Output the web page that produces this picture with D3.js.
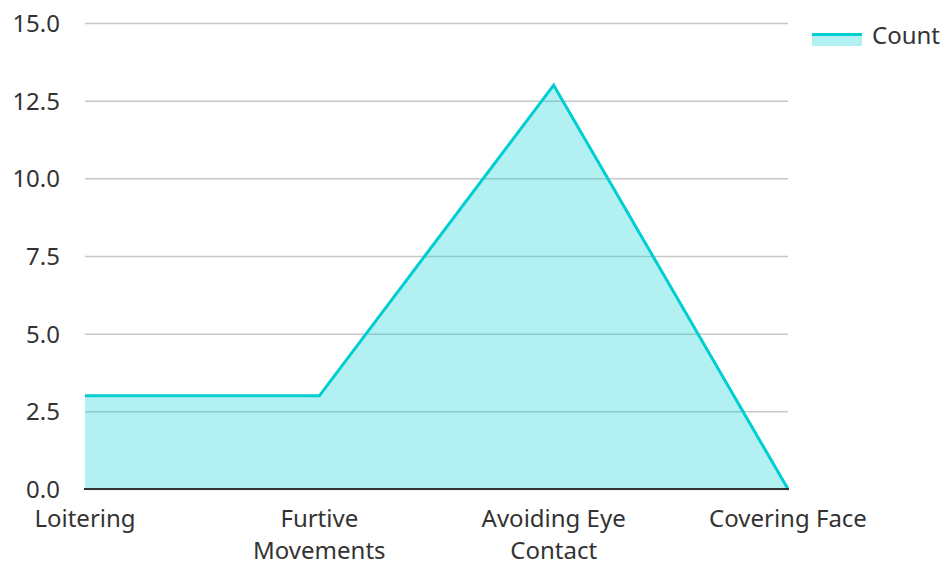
<!DOCTYPE html>
<html>
<head>
<meta charset="utf-8">
<script src="https://cdn.jsdelivr.net/npm/d3@7"></script>
<style>
  html, body { margin: 0; padding: 0; background: #fff; }
  svg text { font-family: "Noto Sans", "Open Sans", sans-serif; fill: #333; }
</style>
</head>
<body>
<svg id="chart" width="945" height="562"></svg>
<script>
// Behaviour counts
const categories = ["Loitering", "Furtive Movements", "Avoiding Eye Contact", "Covering Face"];
const counts = [3, 3, 13, 0];
const yTicks = [0, 2.5, 5, 7.5, 10, 12.5, 15];
const seriesName = "Count";

const svg = d3.select("#chart");
const plotLeft = 85, plotRight = 788, plotTop = 23, plotBottom = 489;
const lineColor = "#00CED1";
const fontSize = 24;

const x = d3.scalePoint().domain(categories).range([plotLeft, plotRight]);
const y = d3.scaleLinear().domain([0, 15]).range([plotBottom, plotTop]);

// Horizontal grid and y labels
const yAxis = d3.axisLeft(y).tickValues(yTicks).tickFormat(d3.format(".1f"))
  .tickSize(-(plotRight - plotLeft)).tickPadding(25);
const gy = svg.append("g").attr("transform", `translate(${plotLeft},0)`).call(yAxis);
gy.select(".domain").remove();
gy.selectAll(".tick line").attr("stroke", "#c8c8c8").attr("stroke-width", 1.5);
gy.selectAll(".tick text").attr("font-size", fontSize).attr("fill", "#333")
  .attr("dy", "0.36em");

// Area and line
const data = categories.map((c, i) => ({ c, v: counts[i] }));
svg.append("path").datum(data)
  .attr("d", d3.area().x(d => x(d.c)).y0(y(0)).y1(d => y(d.v)))
  .attr("fill", lineColor).attr("fill-opacity", 0.3);
svg.append("path").datum(data)
  .attr("d", d3.line().x(d => x(d.c)).y(d => y(d.v)))
  .attr("fill", "none").attr("stroke", lineColor).attr("stroke-width", 3)
  .attr("stroke-linejoin", "miter");

// Baseline
svg.append("line").attr("x1", plotLeft - 1).attr("x2", plotRight + 1)
  .attr("y1", y(0)).attr("y2", y(0)).attr("stroke", "#333").attr("stroke-width", 2);

// Category labels, wrapped onto two lines where needed
const wrapped = {
  "Loitering": ["Loitering"],
  "Furtive Movements": ["Furtive", "Movements"],
  "Avoiding Eye Contact": ["Avoiding Eye", "Contact"],
  "Covering Face": ["Covering Face"]
};
categories.forEach(c => {
  const t = svg.append("text").attr("text-anchor", "middle").attr("font-size", fontSize)
    .attr("x", x(c)).attr("y", 527);
  wrapped[c].forEach((ln, i) => {
    t.append("tspan").attr("x", x(c)).attr("dy", i === 0 ? 0 : 32).text(ln);
  });
});

// Legend
const lg = svg.append("g").attr("transform", "translate(812,33)");
lg.append("rect").attr("x", 0).attr("y", 0).attr("width", 50).attr("height", 13)
  .attr("fill", lineColor).attr("fill-opacity", 0.3);
lg.append("line").attr("x1", 0).attr("x2", 50).attr("y1", 1.5).attr("y2", 1.5)
  .attr("stroke", lineColor).attr("stroke-width", 3);
lg.append("text").attr("x", 60).attr("y", 11).attr("font-size", fontSize).text(seriesName);
</script>
</body>
</html>
